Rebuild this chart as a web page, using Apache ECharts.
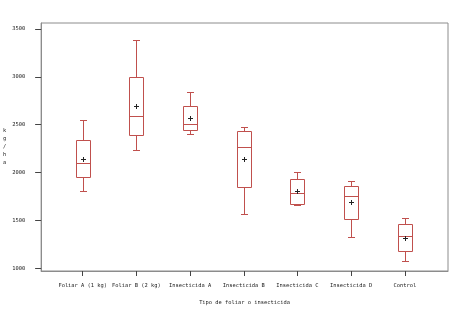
<!DOCTYPE html>
<html>
<head>
<meta charset="utf-8">
<script src="https://cdn.jsdelivr.net/npm/echarts@6/dist/echarts.min.js"></script>
<style>html,body{margin:0;padding:0;background:#fff}#c{width:474px;height:320px}</style>
</head>
<body>
<div id="c"></div>
<script>
const categories = ['Foliar A (1 kg)', 'Foliar B (2 kg)', 'Insecticida A', 'Insecticida B', 'Insecticida C', 'Insecticida D', 'Control'];
const mins    = [1813, 2231, 2405, 1568, 1659, 1327, 1081];
const q1s     = [1949, 2391, 2440, 1847, 1673, 1520, 1178];
const medians = [2101, 2590, 2513, 2266, 1785, 1756, 1342];
const q3s     = [2336, 2995, 2695, 2436, 1938, 1861, 1463];
const maxs    = [2548, 3385, 2844, 2472, 2011, 1917, 1523];
const means   = [2140, 2698, 2566, 2140, 1809, 1694, 1321];
const yTicks  = [1000, 1500, 2000, 2500, 3000, 3500];

const data = categories.map((c, i) => [i, mins[i], q1s[i], medians[i], q3s[i], maxs[i], means[i]]);
const boxColor = '#c0504d';
const font = 'DejaVu Sans Mono';

const chart = echarts.init(document.getElementById('c'), null, {renderer: 'canvas'});
chart.setOption({
  animation: false,
  backgroundColor: '#fff',
  grid: {left: 40, right: 26, top: 23, bottom: 49, show: true, borderColor: '#8c8c8c', borderWidth: 1},
  xAxis: {
    type: 'value', min: -0.775, max: 6.805,
    name: 'Tipo de foliar o insecticida', nameLocation: 'middle', nameGap: 29,
    nameTextStyle: {fontFamily: font, fontSize: 5.4, color: '#222'},
    axisLine: {show: true, onZero: false, lineStyle: {color: '#8c8c8c'}},
    axisTick: {show: true, inside: false, customValues: categories.map((c, i) => i), length: 5, lineStyle: {color: '#444', width: 1}},
    axisLabel: {customValues: categories.map((c, i) => i), formatter: v => categories[Math.round(v)] || '',
      fontFamily: font, fontSize: 5.4, color: '#222', margin: 12},
    splitLine: {show: false}
  },
  yAxis: {
    type: 'value', min: 972, max: 3563,
    name: 'k\ng\n/\nh\na', nameLocation: 'middle', nameGap: 33, nameRotate: 0,
    nameTextStyle: {fontFamily: font, fontSize: 5.4, color: '#222', lineHeight: 8},
    axisLine: {show: true, onZero: false, lineStyle: {color: '#8c8c8c'}},
    axisTick: {show: true, inside: false, customValues: yTicks, length: 6, lineStyle: {color: '#444', width: 1}},
    axisLabel: {customValues: yTicks, formatter: v => String(v), fontFamily: font, fontSize: 5.4, color: '#222', margin: 16},
    splitLine: {show: false}
  },
  series: [{
    type: 'custom',
    data: data,
    encode: {x: 0, y: [1, 2, 3, 4, 5]},
    renderItem: function (params, api) {
      const x = api.value(0);
      const pMin = api.coord([x, api.value(1)]);
      const pQ1 = api.coord([x, api.value(2)]);
      const pMed = api.coord([x, api.value(3)]);
      const pQ3 = api.coord([x, api.value(4)]);
      const pMax = api.coord([x, api.value(5)]);
      const pMean = api.coord([x, api.value(6)]);
      const cx = Math.round(pMed[0]) + 0.5;
      const hw = 7, cw = 3.5, m = 2.5;
      const st = {stroke: boxColor, lineWidth: 1, fill: null};
      const r = y => Math.round(y) + 0.5;
      return {
        type: 'group',
        children: [
          {type: 'line', shape: {x1: cx, y1: r(pMax[1]), x2: cx, y2: r(pQ3[1])}, style: st},
          {type: 'line', shape: {x1: cx, y1: r(pQ1[1]), x2: cx, y2: r(pMin[1])}, style: st},
          {type: 'line', shape: {x1: cx - cw, y1: r(pMax[1]), x2: cx + cw, y2: r(pMax[1])}, style: st},
          {type: 'line', shape: {x1: cx - cw, y1: r(pMin[1]), x2: cx + cw, y2: r(pMin[1])}, style: st},
          {type: 'rect', shape: {x: cx - hw, y: r(pQ3[1]), width: hw * 2, height: r(pQ1[1]) - r(pQ3[1])}, style: {stroke: boxColor, lineWidth: 1, fill: 'rgba(0,0,0,0)'}},
          {type: 'line', shape: {x1: cx - hw, y1: r(pMed[1]), x2: cx + hw, y2: r(pMed[1])}, style: st},
          {type: 'line', shape: {x1: cx - m, y1: r(pMean[1]), x2: cx + m, y2: r(pMean[1])}, style: {stroke: '#222', lineWidth: 1}},
          {type: 'line', shape: {x1: cx, y1: r(pMean[1]) - m, x2: cx, y2: r(pMean[1]) + m}, style: {stroke: '#222', lineWidth: 1}}
        ]
      };
    }
  }]
});
</script>
</body>
</html>
